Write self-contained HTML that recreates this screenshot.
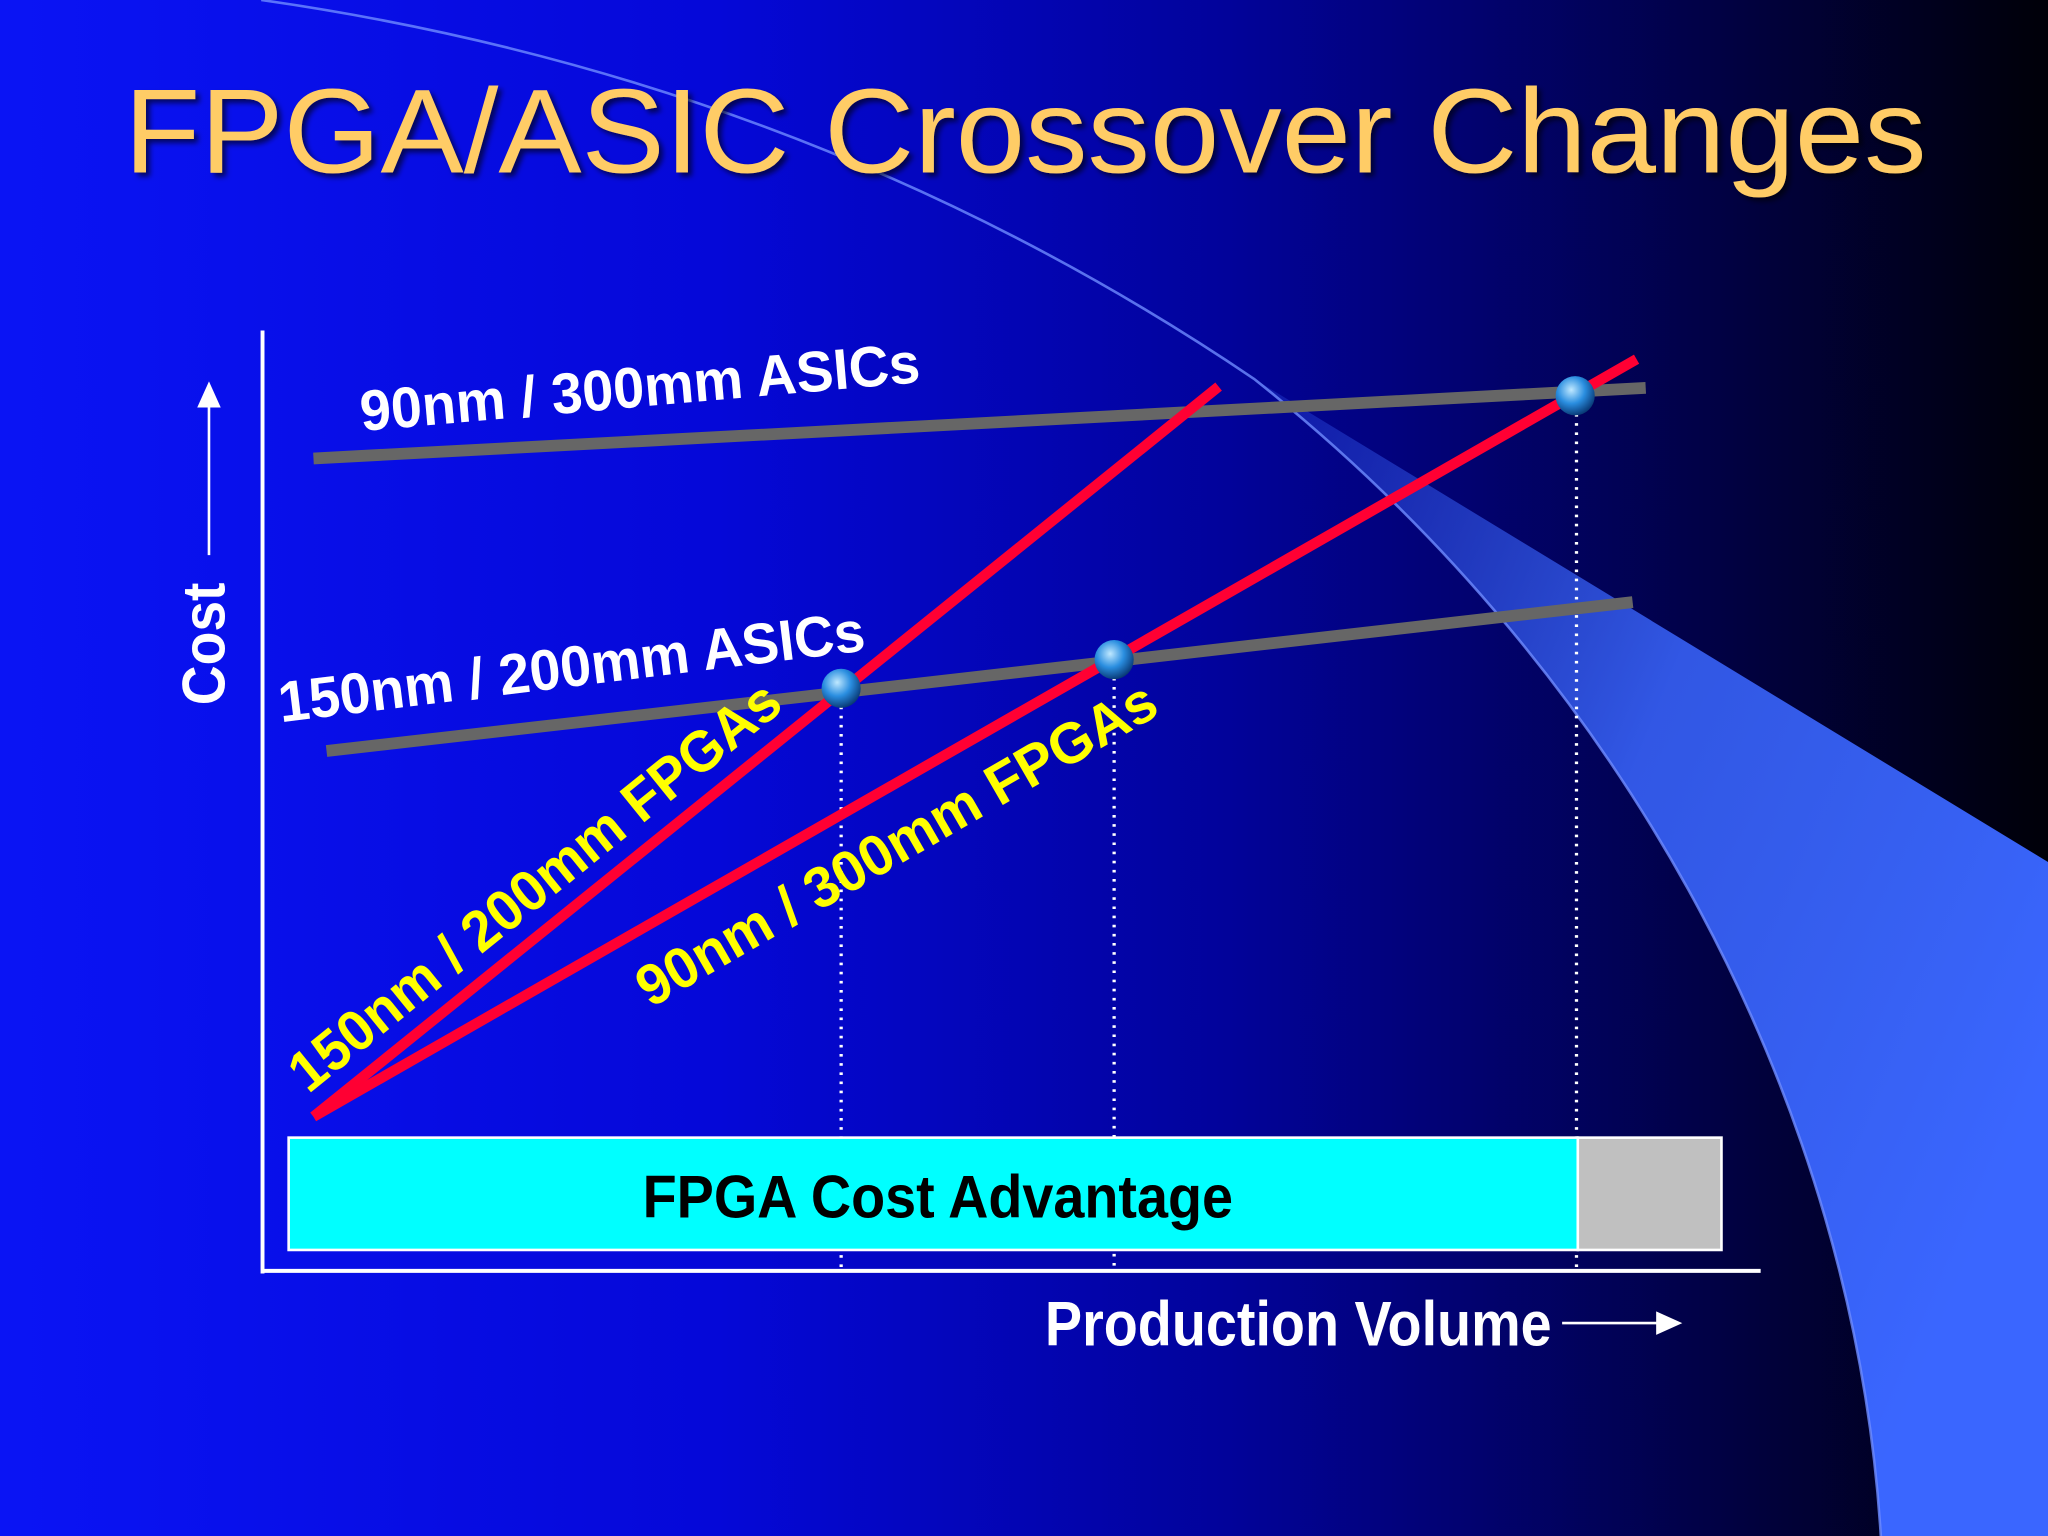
<!DOCTYPE html>
<html><head><meta charset="utf-8">
<style>
html,body{margin:0;padding:0;width:2048px;height:1536px;overflow:hidden;background:#000}
svg{display:block}
text{font-family:"Liberation Sans",sans-serif;font-weight:bold}
</style></head>
<body>
<svg width="2048" height="1536" viewBox="0 0 1568 1176" xmlns="http://www.w3.org/2000/svg">
<defs>
<linearGradient id="bg" x1="0" y1="0" x2="1" y2="0">
<stop offset="0" stop-color="#0a14f5"/>
<stop offset="0.35" stop-color="#0508d8"/>
<stop offset="0.6" stop-color="#02039a"/>
<stop offset="0.85" stop-color="#010140"/>
<stop offset="1" stop-color="#000008"/>
</linearGradient>
<linearGradient id="sw" x1="0" y1="0" x2="1" y2="0.6">
<stop offset="0" stop-color="#3a66ff" stop-opacity="0.2"/>
<stop offset="0.5" stop-color="#3a66ff" stop-opacity="0.85"/>
<stop offset="1" stop-color="#3a66ff" stop-opacity="1"/>
</linearGradient>
<radialGradient id="ball" cx="0.4" cy="0.35" r="0.7">
<stop offset="0" stop-color="#bfe8ff"/>
<stop offset="0.5" stop-color="#2a8ee0"/>
<stop offset="1" stop-color="#05306a"/>
</radialGradient>
<filter id="sh"><feDropShadow dx="3" dy="3" stdDeviation="2" flood-color="#000" flood-opacity="0.6"/></filter>
</defs>
<rect width="1568" height="1176" fill="url(#bg)"/>
<path d="M960 290 C1250 520 1420 850 1440 1176 L1568 1176 L1568 660 Z" fill="url(#sw)"/>
<path d="M200 0 Q620 60 960 290 C1250 520 1420 850 1440 1176" fill="none" stroke="#6f8cff" stroke-width="2" opacity="0.8"/>
<text x="95" y="132" font-size="92" fill="#ffcc66" filter="url(#sh)" style="font-weight:normal" textLength="1380" lengthAdjust="spacingAndGlyphs">FPGA/ASIC Crossover Changes</text>
<line x1="201" y1="253" x2="201" y2="975" stroke="#fff" stroke-width="3"/>
<line x1="200" y1="973" x2="1348" y2="973" stroke="#fff" stroke-width="3"/>
<g stroke="#fff" stroke-width="2.5" stroke-dasharray="2 5">
<line x1="644" y1="527" x2="644" y2="973"/>
<line x1="853" y1="505" x2="853" y2="973"/>
<line x1="1207" y1="303" x2="1207" y2="973"/>
</g>
<rect x="221" y="871" width="987" height="86" fill="#00ffff" stroke="#fff" stroke-width="2"/>
<rect x="1208" y="871" width="110" height="86" fill="#c0c0c0" stroke="#fff" stroke-width="2"/>
<text x="492" y="932" font-size="46" fill="#000" textLength="452" lengthAdjust="spacingAndGlyphs">FPGA Cost Advantage</text>
<line x1="240" y1="351" x2="1260" y2="297" stroke="#666" stroke-width="9"/>
<line x1="250" y1="575" x2="1250" y2="461" stroke="#666" stroke-width="9"/>
<line x1="240" y1="855" x2="933" y2="296" stroke="#ff0033" stroke-width="8"/>
<line x1="240" y1="855" x2="1253" y2="275" stroke="#ff0033" stroke-width="8"/>
<circle cx="644" cy="527" r="15" fill="url(#ball)"/>
<circle cx="853" cy="505" r="15" fill="url(#ball)"/>
<circle cx="1206" cy="303" r="15" fill="url(#ball)"/>
<text transform="translate(277,330) rotate(-5)" font-size="44" fill="#fff" textLength="430" lengthAdjust="spacingAndGlyphs">90nm / 300mm ASICs</text>
<text transform="translate(215,553) rotate(-7)" font-size="44" fill="#fff" textLength="452" lengthAdjust="spacingAndGlyphs">150nm / 200mm ASICs</text>
<text transform="translate(236,838) rotate(-39)" font-size="44" fill="#ffff00" textLength="470" lengthAdjust="spacingAndGlyphs">150nm / 200mm FPGAs</text>
<text transform="translate(498,772) rotate(-30)" font-size="44" fill="#ffff00" textLength="452" lengthAdjust="spacingAndGlyphs">90nm / 300mm FPGAs</text>
<text transform="translate(172,540) rotate(-90)" font-size="46" fill="#fff" textLength="94" lengthAdjust="spacingAndGlyphs">Cost</text>
<line x1="160" y1="425" x2="160" y2="305" stroke="#fff" stroke-width="2"/>
<polygon points="160,292 151,312 169,312" fill="#fff"/>
<text x="800" y="1030" font-size="48" fill="#fff" textLength="388" lengthAdjust="spacingAndGlyphs">Production Volume</text>
<line x1="1196" y1="1013" x2="1272" y2="1013" stroke="#fff" stroke-width="2"/>
<polygon points="1288,1013 1268,1004 1268,1022" fill="#fff"/>
</svg>
</body></html>
